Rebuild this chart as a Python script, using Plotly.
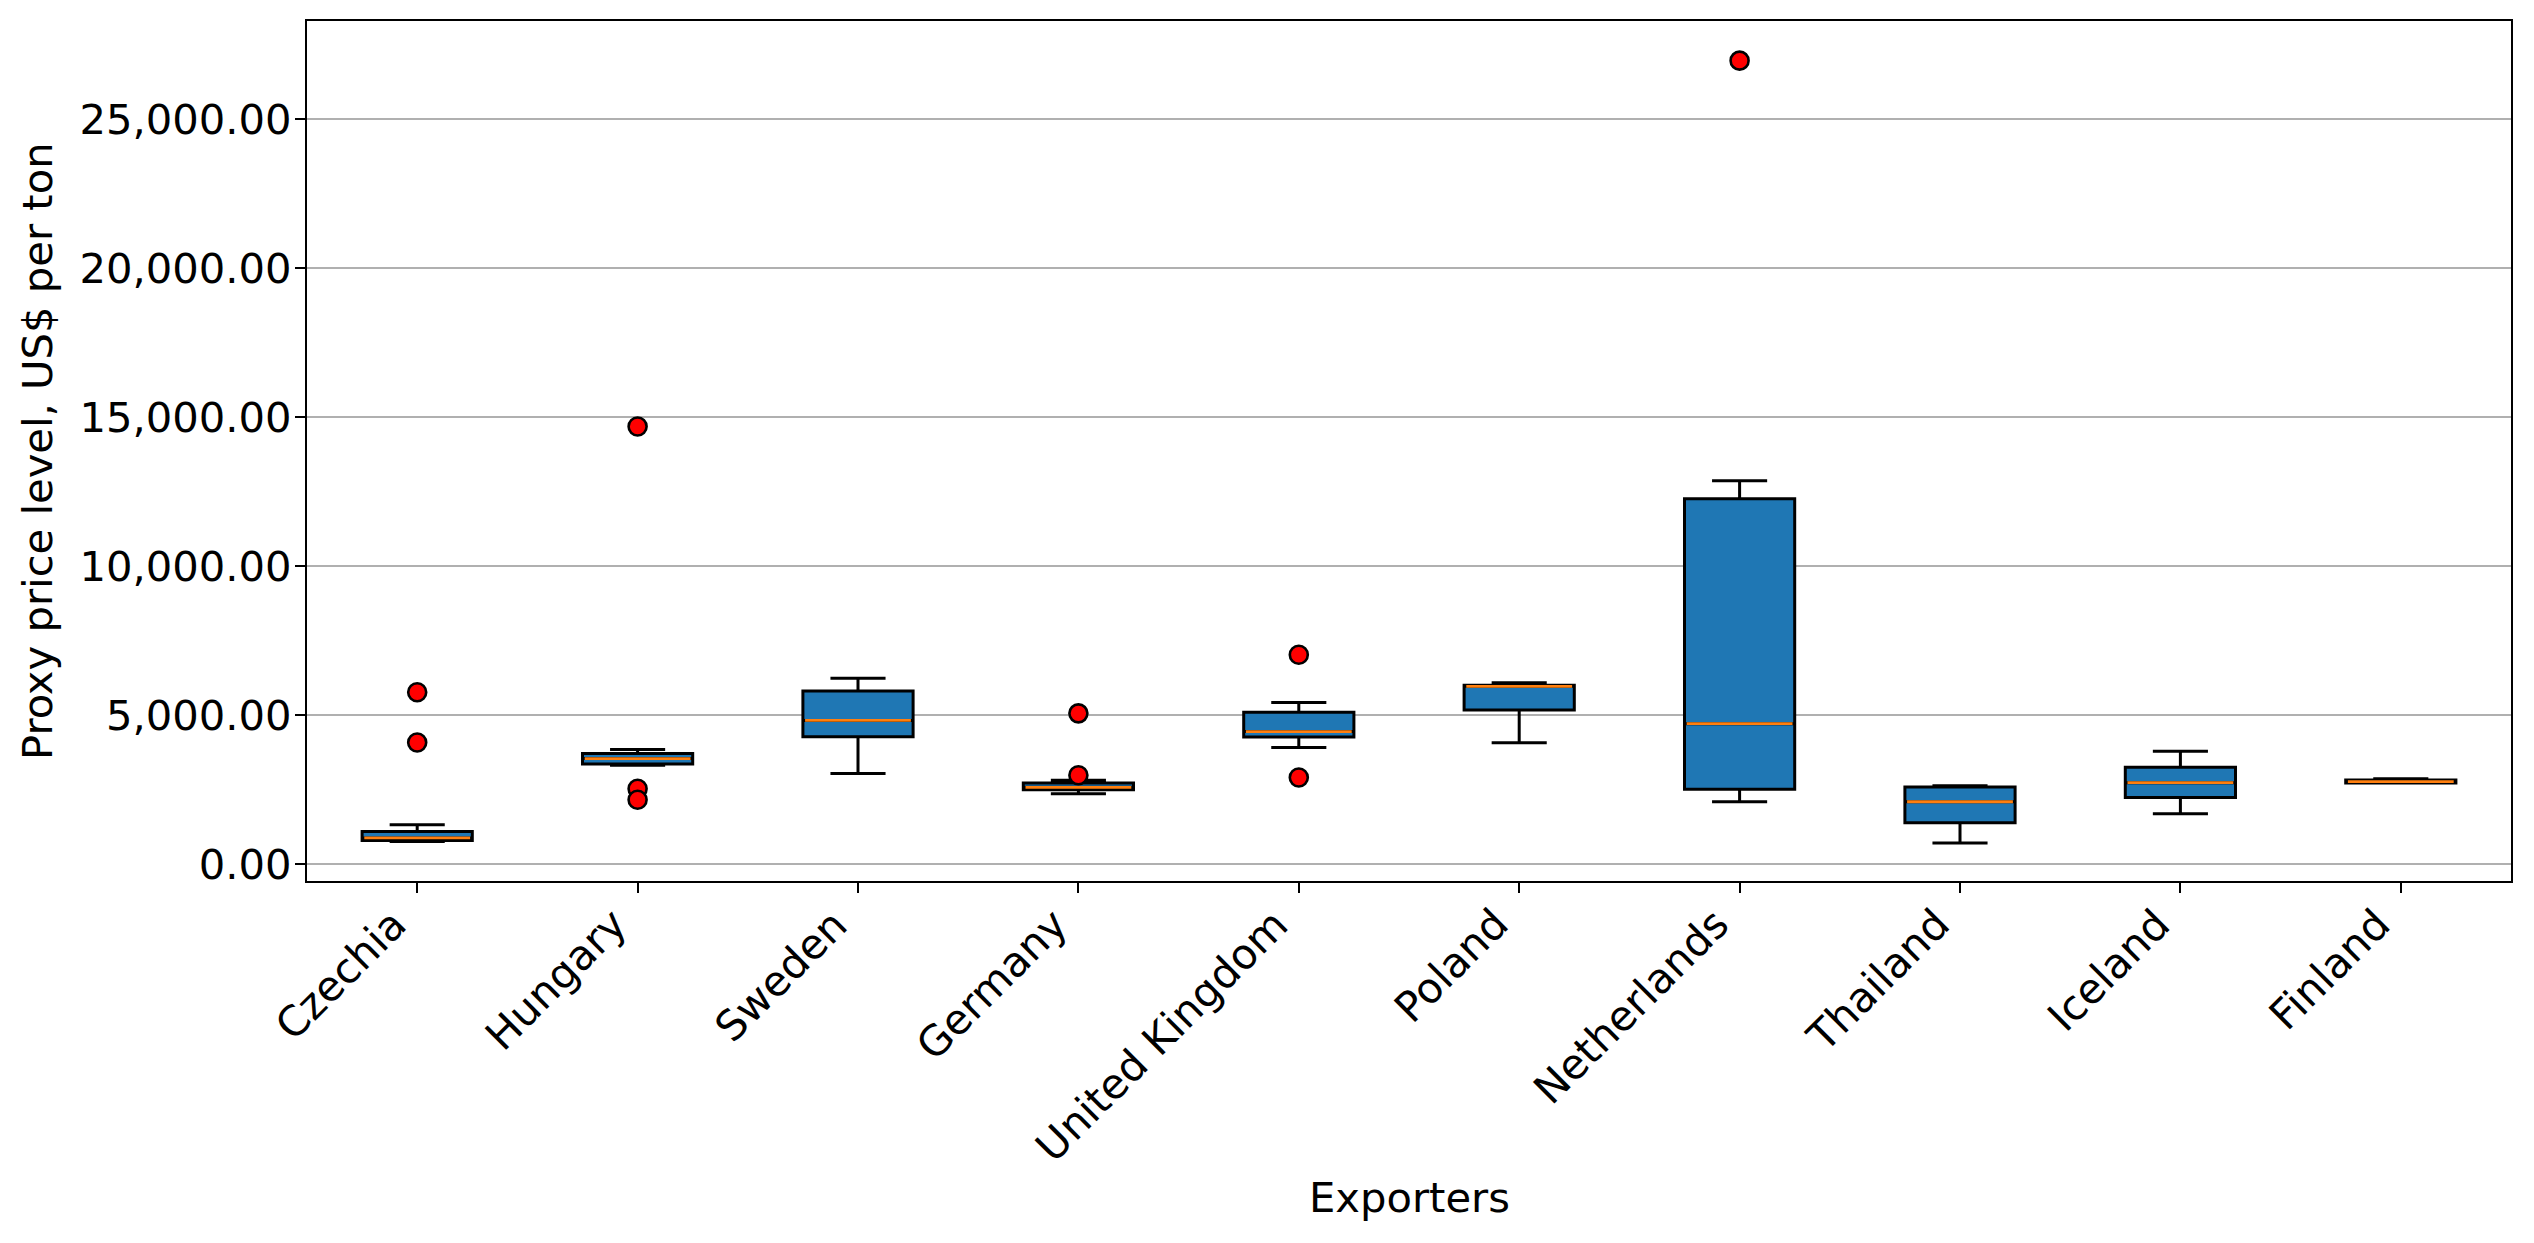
import plotly.graph_objects as go

categories = ["Czechia", "Hungary", "Sweden", "Germany", "United Kingdom",
              "Poland", "Netherlands", "Thailand", "Iceland", "Finland"]
q1 = [787, 3360, 4270, 2494, 4260, 5168, 2506, 1382, 2236, 2719]
median = [876, 3539, 4820, 2573, 4445, 5962, 4709, 2090, 2730, 2764]
q3 = [1090, 3708, 5809, 2719, 5095, 5996, 12260, 2584, 3247, 2820]
lower_whisker = [753, 3315, 3034, 2360, 3907, 4072, 2092, 708, 1685, 2719]
upper_whisker = [1315, 3843, 6236, 2809, 5420, 6085, 12864, 2629, 3787, 2865]
outlier_country = ["Czechia", "Czechia", "Hungary", "Hungary", "Hungary",
                   "Germany", "Germany", "United Kingdom", "United Kingdom", "Netherlands"]
outlier_value = [5764, 4079, 14680, 2528, 2157, 5056, 2978, 7023, 2904, 26960]

y_ticks = [0, 5000, 10000, 15000, 20000, 25000]

FONT = "DejaVu Sans"
FS = 41.7
BOX_W = 0.5
pos = list(range(1, len(categories) + 1))
pos_of = {c: p for c, p in zip(categories, pos)}

fig = go.Figure()

fig.add_trace(go.Box(
    x=pos, q1=q1, median=median, q3=q3,
    lowerfence=lower_whisker, upperfence=upper_whisker,
    width=BOX_W, whiskerwidth=0.5,
    fillcolor="#1f77b4", line=dict(color="black", width=3),
    boxpoints=False, showlegend=False, hoverinfo="skip",
))

# orange median lines
for p, m in zip(pos, median):
    fig.add_trace(go.Scatter(
        x=[p - BOX_W / 2 + 0.01, p + BOX_W / 2 - 0.01], y=[m, m],
        mode="lines", line=dict(color="#ff7f0e", width=2.8),
        showlegend=False, hoverinfo="skip",
    ))

fig.add_trace(go.Scatter(
    x=[pos_of[c] for c in outlier_country], y=outlier_value,
    mode="markers",
    marker=dict(color="red", size=18, line=dict(color="black", width=2.6)),
    showlegend=False, hoverinfo="skip",
))

annotations = [
    dict(text="Exporters", xref="paper", yref="paper", x=0.5, y=0,
         xanchor="center", yanchor="middle", yshift=-316, showarrow=False,
         font=dict(family=FONT, size=FS)),
    dict(text="Proxy price level, US$ per ton", xref="paper", yref="paper",
         x=0, y=0.5, xanchor="center", yanchor="middle", xshift=-270,
         textangle=-90, showarrow=False, font=dict(family=FONT, size=FS)),
]
# rotated category labels anchored like matplotlib (ha='right', rotated bbox top-right at tick)
for p, c in zip(pos, categories):
    annotations.append(dict(
        text=c, xref="x", yref="paper", x=p, y=0,
        xanchor="right", yanchor="top", yshift=-17, textangle=-45,
        showarrow=False, borderpad=0, font=dict(family=FONT, size=FS),
    ))

fig.update_layout(
    width=2534, height=1243,
    margin=dict(l=307, r=23, t=21, b=362, autoexpand=False),
    paper_bgcolor="white", plot_bgcolor="white",
    font=dict(family=FONT, size=FS, color="black"),
    annotations=annotations,
)

fig.update_xaxes(
    range=[0.5, 10.5], tickmode="array", tickvals=pos, ticktext=[""] * len(pos),
    ticks="outside", ticklen=10, tickwidth=2.2, tickcolor="black",
    showline=True, linecolor="black", linewidth=2.2, mirror=True,
    showgrid=False, zeroline=False,
    automargin=False,
)
fig.update_yaxes(
    range=[-570, 28290], tickmode="array", tickvals=y_ticks,
    tickformat=",.2f", ticks="outside", ticklen=10, tickwidth=2.2, tickcolor="black",
    showline=True, linecolor="black", linewidth=2.2, mirror=True,
    showgrid=True, gridcolor="#b0b0b0", gridwidth=2.2, zeroline=False,
    tickfont=dict(family=FONT, size=FS),
    ticklabelstandoff=-5,
    automargin=False,
)

fig.write_html("out.html")
